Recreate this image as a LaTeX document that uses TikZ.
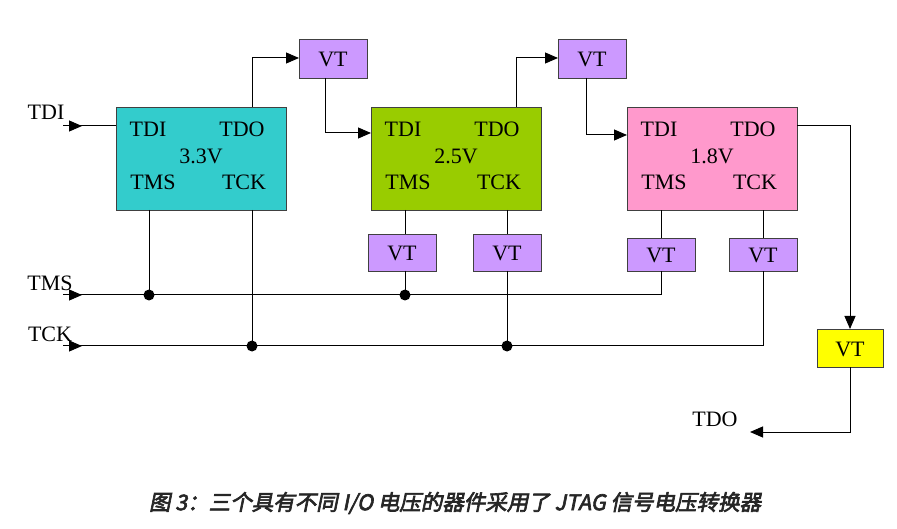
\documentclass[tikz,border=0pt]{standalone}
\usepackage{fontspec}
\setmainfont{Liberation Serif}
\newfontfamily\cjk[FakeBold=3,FakeSlant=0.2]{Noto Sans CJK SC}
\usetikzlibrary{arrows.meta}
\definecolor{cy}{HTML}{33CCCC}
\definecolor{gr}{HTML}{99CC00}
\definecolor{pk}{HTML}{FF99CC}
\definecolor{vt}{HTML}{CC99FF}
\definecolor{ye}{HTML}{FFFF00}
\tikzset{
 x=1pt,y=-1pt,
 chip/.style={draw=black!75,line width=0.8pt},
 vtbox/.style={draw=black!75,line width=0.8pt,fill=vt},
 lbl/.style={font=\fontsize{22}{22}\selectfont,inner sep=0pt},
 wire/.style={line width=1pt},
 arr/.style={wire,-{Triangle[length=13pt,width=11pt]}},
 dot/.style={circle,fill=black,inner sep=0pt,minimum size=11pt},
}
\begin{document}
\begin{tikzpicture}
\useasboundingbox (0,0) rectangle (897,529);
\fill[white] (0,0) rectangle (897,529);
% chips
\foreach \n/\x/\c/\v in {c1/116/cy/3.3V,c2/371/gr/2.5V,c3/627/pk/1.8V}{
 \draw[chip,fill=\c] (\x,107) rectangle ++(170,103);
 \node[lbl] at (\x+32,129) {TDI};
 \node[lbl] at (\x+126,129) {TDO};
 \node[lbl] at (\x+85,156) {\v};
 \node[lbl] at (\x+37,182) {TMS};
 \node[lbl] at (\x+128,182) {TCK};
}
% VT boxes
\foreach \n/\x/\y/\h in {t1/299/39/39,t2/558/39/39,b1/368/234/37,b2/473/234/37,b3/627/238/33,b4/729/238/33}{
 \draw[vtbox] (\x,\y) rectangle ++(68,\h);
 \node[lbl] at (\x+34,\y+\h/2+1) {VT};
}
\draw[chip,fill=ye] (817,329) rectangle (883,367);
\node[lbl] at (850,349) {VT};
% labels
\node[lbl] at (46,112) {TDI};
\node[lbl] at (50,283) {TMS};
\node[lbl] at (50,334) {TCK};
\node[lbl] at (715,419) {TDO};
% TDI input
\draw[arr] (63,126) -- (82,126);
\draw[wire] (78,126) -- (116,126);
% TMS line
\draw[arr] (63,295) -- (82,295);
\draw[wire] (78,295) -- (661,295) -- (661,271);
\draw[wire] (661,238) -- (661,210);
\draw[wire] (149,210) -- (149,295);
\draw[wire] (405,210) -- (405,234) (405,271) -- (405,295);
\node[dot] at (149,295) {};
\node[dot] at (405,295) {};
% TCK line
\draw[arr] (63,346) -- (82,346);
\draw[wire] (78,346) -- (763,346) -- (763,271);
\draw[wire] (763,238) -- (763,210);
\draw[wire] (252,210) -- (252,346);
\draw[wire] (507,210) -- (507,234) (507,271) -- (507,346);
\node[dot] at (252,346) {};
\node[dot] at (507,346) {};
% TDO chain
\draw[arr] (252,107) -- (252,58) -- (299,58);
\draw[arr] (325,78) -- (325,133) -- (371,133);
\draw[arr] (516,107) -- (516,58) -- (558,58);
\draw[arr] (586,78) -- (586,135) -- (627,135);
\draw[arr] (797,126) -- (850,126) -- (850,329);
\draw[arr] (850,367) -- (850,432) -- (750,432);
% caption
\node[inner sep=0pt,text=black!85] at (455,503) {\cjk\fontsize{21.5}{21.5}\selectfont 图 3：三个具有不同 I/O 电压的器件采用了 JTAG 信号电压转换器};
\end{tikzpicture}
\end{document}
